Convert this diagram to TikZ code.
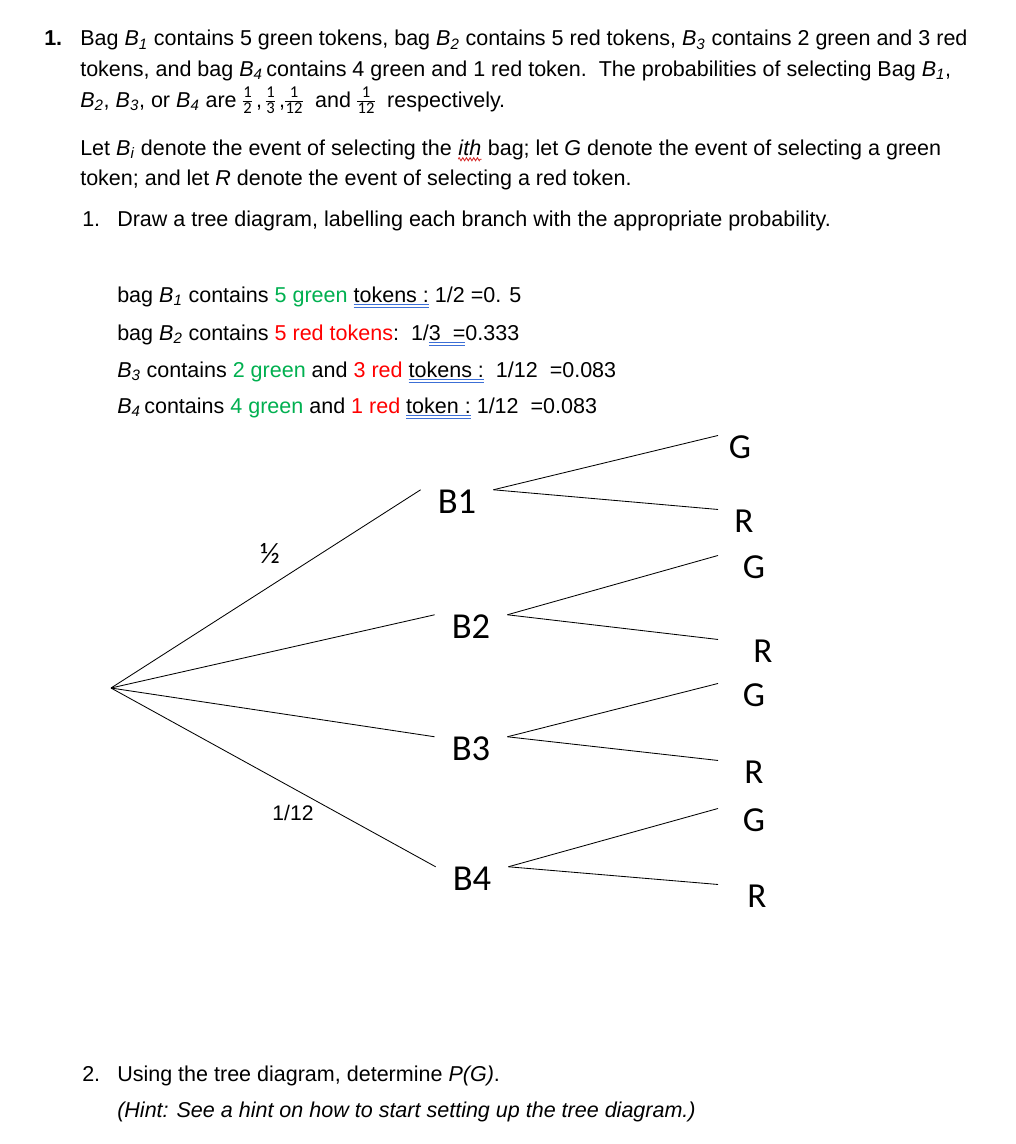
\documentclass[tikz,border=0pt]{standalone}
\usepackage{fontspec}
\setmainfont{Liberation Sans}
\newfontfamily\treefont{Carlito}
\usetikzlibrary{positioning, decorations.pathmorphing}

\definecolor{tokenGreen}{HTML}{00B050}
\definecolor{tokenRed}{HTML}{FF0000}
\definecolor{checkBlue}{HTML}{3C6FD6}
\definecolor{spellRed}{HTML}{D62828}

\newcommand\Bi[1]{\textit{B}\textsubscript{\textit{#1}}}
\newcommand\qfrac[2]{\raisebox{0.6pt}{\treefont\fontsize{11.8}{8.3}\selectfont\setlength{\tabcolsep}{0.5pt}%
    \begin{tabular}{c}#1\\\hline\rule{0pt}{8.8pt}#2\end{tabular}}}
\newcommand\gramline[1]{\leavevmode\setbox0\hbox{#1}%
    \rlap{\color{checkBlue}\rule[-4.6pt]{\wd0}{0.7pt}}%
    \rlap{\color{checkBlue}\rule[-2.2pt]{\wd0}{0.7pt}}\box0\relax}

\tikzset{
    question text/.style={anchor=base west, inner sep=0pt, font=\fontsize{15.3}{18}\selectfont},
    number label/.style={question text, font=\fontsize{15.3}{18}\selectfont\bfseries},
    spell wave/.style={draw=spellRed, line width=0.6pt, decorate, decoration={zigzag, segment length=2.6pt, amplitude=1.1pt}},
    bag node/.style={font=\treefont\fontsize{26}{28}\selectfont, text height=17pt, text depth=0pt, inner xsep=12pt, inner ysep=0pt},
    token node/.style={font=\treefont\fontsize{25}{27}\selectfont, text height=16pt, text depth=0pt, inner xsep=2pt, inner ysep=0pt},
    prob label/.style={font=\treefont\fontsize{21}{23}\selectfont, inner sep=0pt},
    branch/.style={draw=black, line width=0.6pt},
}

\begin{document}
\begin{tikzpicture}[x=0.025cm, y=-0.025cm]
    \useasboundingbox[fill=white] (0,0) rectangle (1016,1144);

    % Question text
    \node[number label] (num1) at (44,46) {1.};
    \node[question text] (q1a) at (80,46) {Bag \Bi{1} contains 5 green tokens, bag \Bi{2} contains 5 red tokens, \Bi{3} contains 2 green and 3 red};
    \node[question text] (q1b) at (80,76.5) {tokens, and bag \Bi{4}\,contains 4 green and 1 red token.\ \ The probabilities of selecting Bag \Bi{1},};
    \node[question text] (q1c) at (80,107) {\Bi{2}, \Bi{3}, or \Bi{4} are \qfrac{1}{2}\,,\,\qfrac{1}{3}\,,\qfrac{1}{12}\ \ and \qfrac{1}{12}\ \ respectively.};
    \node[question text] (q2a) at (80,155) {Let \Bi{i} denote the event of selecting the};
    \node[question text, base right=4.3pt of q2a] (ithword) {\textit{ith}};
    \node[question text, base right=4.3pt of ithword] (q2c) {bag; let \textit{G} denote the event of selecting a green};
    \draw[spell wave] ([yshift=-3pt]ithword.base west) -- ([yshift=-3pt]ithword.base east);
    \node[question text] (q2b) at (80,185) {token; and let \textit{R} denote the event of selecting a red token.};
    \node[question text] (num1b) at (82,226) {1.};
    \node[question text] (part1) at (117,226) {Draw a tree diagram, labelling each branch with the appropriate probability.};

    % Bag list
    \node[question text] (list1) at (117,302) {bag \Bi{1} contains \textcolor{tokenGreen}{5 green} \gramline{tokens :} 1/2 =0. 5};
    \node[question text] (list2) at (117,340) {bag \Bi{2} contains \textcolor{tokenRed}{5 red tokens}:\ \ 1/\gramline{3\ \ =}0.333};
    \node[question text] (list3) at (117,377) {\Bi{3} contains \textcolor{tokenGreen}{2 green} and \textcolor{tokenRed}{3 red} \gramline{tokens :}\ \ 1/12\ \ =0.083};
    \node[question text] (list4) at (117,413) {\Bi{4}\,contains \textcolor{tokenGreen}{4 green} and \textcolor{tokenRed}{1 red} \gramline{token :} 1/12\ \ =0.083};

    % Tree nodes
    \coordinate (root) at (111,688);
    \node[bag node] (B1) at (457,502) {B1};
    \node[bag node] (B2) at (471,627) {B2};
    \node[bag node] (B3) at (471,749) {B3};
    \node[bag node] (B4) at (472,879) {B4};

    \node[token node] (G1) at (740,447) {G};
    \node[token node] (R1) at (744,521) {R};
    \node[token node] (G2) at (754,567) {G};
    \node[token node] (R2) at (763,651) {R};
    \node[token node] (G3) at (754,695) {G};
    \node[token node] (R3) at (754,772) {R};
    \node[token node] (G4) at (754,820) {G};
    \node[token node] (R4) at (757,896) {R};
    \coordinate (tips) at (718,0);

    \node[prob label] (pB1) at (270,553) {½};
    \node[prob label, font=\fontsize{15}{17}\selectfont] (pB4) at (293,813) {1/12};

    % Branches
    \draw[branch] (root) -- (B1.north west);
    \draw[branch] (root) -- (B2.north west);
    \draw[branch] (root) -- (B3.north west);
    \draw[branch] (root) -- (B4.north west);

    \draw[branch] (B1.north east) -- (G1.north west -| tips);
    \draw[branch] (B1.north east) -- (R1.north west -| tips);
    \draw[branch] (B2.north east) -- (G2.north west -| tips);
    \draw[branch] (B2.north east) -- (R2.north west -| tips);
    \draw[branch] (B3.north east) -- (G3.north west -| tips);
    \draw[branch] (B3.north east) -- (R3.north west -| tips);
    \draw[branch] (B4.north east) -- (G4.north west -| tips);
    \draw[branch] (B4.north east) -- (R4.north west -| tips);

    % Part 2
    \node[question text] (num2) at (82,1081) {2.};
    \node[question text] (part2) at (117,1081) {Using the tree diagram, determine \textit{P(G)}.};
    \node[question text] (hint) at (117,1117) {\textit{(Hint: See a hint on how to start setting up the tree diagram.)}};
\end{tikzpicture}
\end{document}
